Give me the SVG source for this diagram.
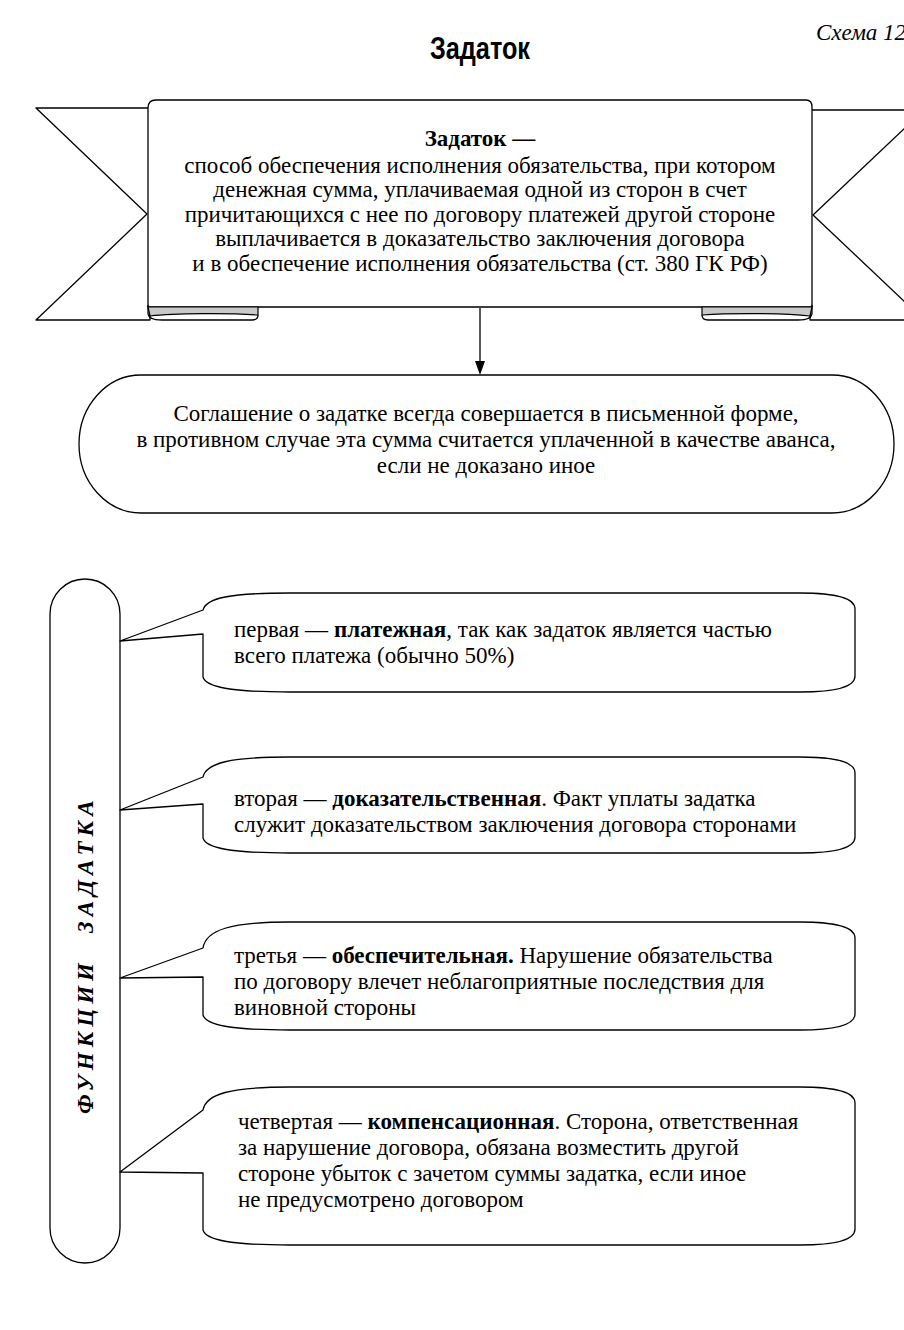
<svg xmlns="http://www.w3.org/2000/svg" width="904" height="1330" viewBox="0 0 904 1330">
<defs>
<style>
.s{font-family:"Liberation Serif","Times New Roman",serif;font-size:23px;fill:#000}
.c{text-anchor:middle}
.b{font-weight:bold}
.v{font-family:"Liberation Serif","Times New Roman",serif;font-size:23px;font-weight:bold;font-style:italic;fill:#000}
.ln{fill:none;stroke:#000;stroke-width:1.3}
.box{fill:#fff;stroke:#000;stroke-width:1.3;stroke-linejoin:round}
.curl{fill:#c8c8c8;stroke:#000;stroke-width:1.2}
</style>
</defs>
<rect width="904" height="1330" fill="#fff"/>
<text x="816" y="40" class="s" font-style="italic">Схема 12</text>
<text x="480" y="59" font-family="'Liberation Sans Narrow','Liberation Sans',Arial,sans-serif" font-weight="bold" font-size="31" text-anchor="middle" textLength="100" lengthAdjust="spacingAndGlyphs">Задаток</text>

<g id="banner">
<path class="box" d="M36,108 L150,108 L150,320 L36,320 L147,214 Z"/>
<path class="box" d="M924,110 L810,110 L810,320 L924,320 L813,215 Z"/>
<path class="box" d="M148,307 L148,108 C148,103 151,100 156,100 L806,100 C810,100 812,103 812,107 L812,307 Z"/>
<path class="curl" d="M148,307 L258,307 L258,315 C230,313 175,313 150,316 Z"/>
<path class="ln" d="M148,305 L148,313 C148,318 153,320 162,320 L252,320 C256,320 258,318 258,315"/>
<path class="curl" d="M812,307 L702,307 L702,315 C730,313 785,313 810,316 Z"/>
<path class="ln" d="M812,305 L812,313 C812,318 807,320 798,320 L708,320 C704,320 702,318 702,315"/>
<text class="s c b" x="480" y="146">Задаток —</text>
<text class="s c" x="480" y="173">способ обеспечения исполнения обязательства, при котором</text>
<text class="s c" x="480" y="197">денежная сумма, уплачиваемая одной из сторон в счет</text>
<text class="s c" x="480" y="222">причитающихся с нее по договору платежей другой стороне</text>
<text class="s c" x="480" y="246">выплачивается в доказательство заключения договора</text>
<text class="s c" x="480" y="271">и в обеспечение исполнения обязательства (ст. 380 ГК РФ)</text>
</g>

<g id="connectors">
<line class="ln" x1="480" y1="308" x2="480" y2="362"/>
<path d="M475,361 L485,361 L480,375 Z" fill="#000"/>
</g>

<g id="agreement">
<rect class="box" x="79" y="375" width="815" height="138" rx="62" ry="69"/>
<text class="s c" x="486" y="421">Соглашение о задатке всегда совершается в письменной форме,</text>
<text class="s c" x="486" y="447">в противном случае эта сумма считается уплаченной в качестве аванса,</text>
<text class="s c" x="486" y="473">если не доказано иное</text>
</g>

<g id="functions">
<rect class="box" x="50" y="579" width="70" height="684" rx="35" ry="35"/>
<text class="v" transform="translate(93,1114) rotate(-90)" letter-spacing="5">ФУНКЦИИ</text>
<text class="v" transform="translate(93,933) rotate(-90)" letter-spacing="5">ЗАДАТКА</text>
</g>

<g id="f1">
<path class="box" d="M203,610 C206,598 230,593 290,593 L800,593 C840,593 855,599 855,609 L855,676 C855,686 840,692 800,692 L290,692 C230,692 206,687 203,677 L203,634 L120,641 Z"/>
<text class="s" x="234" y="637">первая — <tspan class="b">платежная</tspan>, так как задаток является частью</text>
<text class="s" x="234" y="663">всего платежа (обычно 50%)</text>
</g>

<g id="f2">
<path class="box" d="M203,777 C206,763 230,757 290,757 L800,757 C840,757 855,763 855,773 L855,837 C855,847 840,853 800,853 L290,853 C230,853 206,848 203,838 L203,804 L120,810 Z"/>
<text class="s" x="234" y="806">вторая — <tspan class="b">доказательственная</tspan>. Факт уплаты задатка</text>
<text class="s" x="234" y="832">служит доказательством заключения договора сторонами</text>
</g>

<g id="f3">
<path class="box" d="M203,948 C206,930 230,922 290,922 L800,922 C840,922 855,928 855,938 L855,1014 C855,1024 840,1030 800,1030 L290,1030 C230,1030 206,1025 203,1015 L203,977 L120,978 Z"/>
<text class="s" x="234" y="963">третья — <tspan class="b">обеспечительная.</tspan> Нарушение обязательства</text>
<text class="s" x="234" y="989">по договору влечет неблагоприятные последствия для</text>
<text class="s" x="234" y="1015">виновной стороны</text>
</g>

<g id="f4">
<path class="box" d="M203,1110 C206,1094 230,1087 290,1087 L800,1087 C840,1087 855,1093 855,1103 L855,1229 C855,1239 840,1245 800,1245 L290,1245 C230,1245 206,1240 203,1230 L203,1173 L120,1172 Z"/>
<text class="s" x="238" y="1129">четвертая — <tspan class="b">компенсационная</tspan>. Сторона, ответственная</text>
<text class="s" x="238" y="1155">за нарушение договора, обязана возместить другой</text>
<text class="s" x="238" y="1181">стороне убыток с зачетом суммы задатка, если иное</text>
<text class="s" x="238" y="1207">не предусмотрено договором</text>
</g>
</svg>
